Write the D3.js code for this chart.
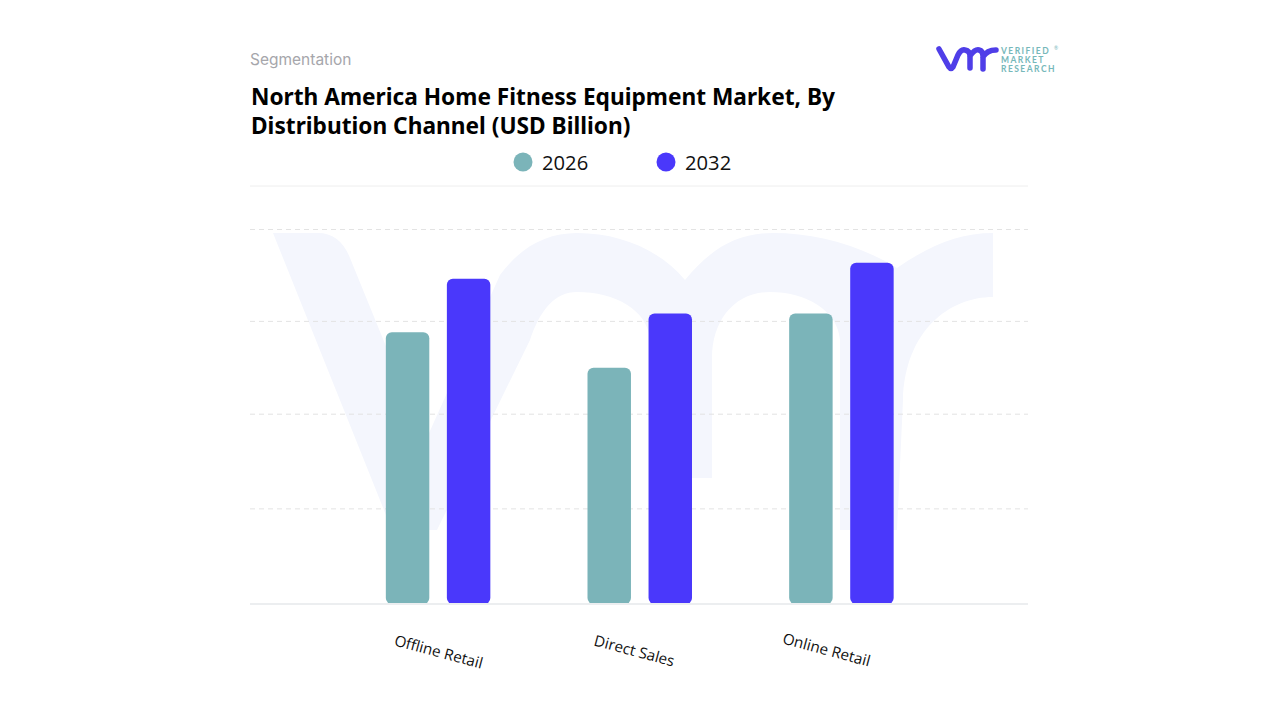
<!DOCTYPE html>
<meta charset="utf-8">
<style>
  body { margin: 0; background: #fff; }
</style>

<!-- Load d3.js -->
<script src="https://d3js.org/d3.v7.js"></script>

<!-- Create a div where the graph will take place -->
<div id="my_dataviz"></div>

<script>
    // data (no axis numbers are shown, one unit = one grid step)
    const channels = ["Offline Retail", "Direct Sales", "Online Retail"];
    const years = ["2026", "2032"];
    const values2026 = [2.90, 2.52, 3.10];
    const values2032 = [3.47, 3.10, 3.64];
    const gridValues = [1.02, 2.03, 3.02, 4];
    const titleLines = ["North America Home Fitness Equipment Market, By", "Distribution Channel (USD Billion)"];
    const logoLines = ["VERIFIED", "MARKET", "RESEARCH"];

    const colors = {"2026": "#7bb4b9", "2032": "#4a38fb"};
    const series = {"2026": values2026, "2032": values2032};

    const svg = d3.select("#my_dataviz")
      .append("svg")
        .attr("width", 1280)
        .attr("height", 720)
        .style("display", "block");

    // headings
    svg.append("text")
      .attr("x", 250).attr("y", 65)
      .style("font", "15.5px Inter")
      .attr("fill", "#a6a6ab")
      .text("Segmentation");

    svg.selectAll("text.title")
      .data(titleLines)
      .join("text")
        .attr("class", "title")
        .attr("x", 251)
        .attr("y", (d, i) => 105 + i * 29)
        .style("font", "bold 22.7px 'Noto Sans'")
        .attr("fill", "#000")
        .text(d => d);

    // logo, top right
    const logo = svg.append("g");
    logo.append("path")
      .attr("d", "M939,49 L949,67 Q951,70 953,67 L958,55 Q961,49 965,50 Q970,51 970,56 L970,68 M970,56 Q975,49 979,50 Q983,51 983,56 L983,69 M983,57 Q987,50 996,50")
      .attr("fill", "none")
      .attr("stroke", "#4f3ee8")
      .attr("stroke-width", 5.5)
      .attr("stroke-linecap", "round");
    logo.selectAll("text.brand")
      .data(logoLines)
      .join("text")
        .attr("class", "brand")
        .attr("x", 1001)
        .attr("y", (d, i) => 54 + i * 9.2)
        .style("font", "bold 8.5px Lato")
        .style("letter-spacing", "1.45px")
        .attr("fill", "#76b8ba")
        .text(d => d);
    logo.append("text")
      .attr("x", 1054).attr("y", 50)
      .style("font", "5px Lato")
      .attr("fill", "#76b8ba")
      .text("®");

    // legend
    const legendX = [523, 666];
    years.forEach((yr, i) => {
      svg.append("circle")
        .attr("cx", legendX[i]).attr("cy", 162).attr("r", 9.5)
        .attr("fill", colors[yr]);
      svg.append("text")
        .attr("x", legendX[i] + 19).attr("y", 170)
        .style("font", "20.2px 'Open Sans'")
        .attr("fill", "#111")
        .text(yr);
    });

    // line under the legend
    svg.append("line")
      .attr("x1", 250).attr("x2", 1028)
      .attr("y1", 186).attr("y2", 186)
      .attr("stroke", "#eeeeee");

    // pale vmr watermark behind the bars
    svg.append("path")
      .attr("d", "M273,233 L318,233 Q340,233 350,258 L425,442 L500,275 C520,248 545,233 577,233 C620,233 660,250 685,280 C710,250 735,233 773,233 C815,233 860,245 897,268 C930,245 960,233 993,233 L993,297 C950,297 905,330 903,400 L897,530 L840,530 L840,340 C838,310 805,292 770,292 C735,292 712,320 712,358 L712,478 L650,478 L650,340 C648,310 615,292 577,292 C555,292 540,310 530,340 L437,530 L392,530 Z")
      .attr("fill", "#f4f6fd");

    // scales
    const y = d3.scaleLinear()
      .domain([0, 4])
      .range([604, 229]);

    const x = d3.scaleBand()
      .domain(channels)
      .range([337, 942]);

    const xInner = d3.scaleBand()
      .domain(years)
      .range([x.bandwidth() / 2 - 52, x.bandwidth() / 2 + 52.5])
      .paddingInner(0.288);

    // dashed grid
    svg.append("g")
      .attr("transform", "translate(250,0)")
      .call(d3.axisLeft(y).tickValues(gridValues).tickSize(-778).tickFormat(""))
      .call(g => g.select(".domain").remove())
      .selectAll("line")
        .attr("stroke", "#e3e3e3")
        .attr("stroke-dasharray", "5 4");

    // bars
    svg.selectAll("g.group")
      .data(channels)
      .join("g")
        .attr("class", "group")
        .attr("transform", d => `translate(${x(d)},0)`)
      .selectAll("rect")
      .data((d, i) => years.map(yr => ({yr: yr, value: series[yr][i]})))
      .join("rect")
        .attr("x", d => xInner(d.yr))
        .attr("y", d => y(d.value))
        .attr("width", xInner.bandwidth())
        .attr("height", d => y(0) - y(d.value))
        .attr("rx", 6)
        .attr("fill", d => colors[d.yr]);

    // baseline and slanted labels
    const labelShift = [0.5, -5.5, -15];
    const xAxis = svg.append("g")
      .attr("transform", "translate(0,604)")
      .call(d3.axisBottom(x).tickSize(0).tickSizeOuter(0));
    xAxis.select(".domain").remove();
    xAxis.append("line")
      .attr("x1", 250).attr("x2", 1028)
      .attr("stroke", "#eceef0")
      .attr("stroke-width", 2);
    xAxis.selectAll(".tick text")
      .attr("y", null)
      .attr("dy", null)
      .attr("text-anchor", "middle")
      .attr("dominant-baseline", "middle")
      .attr("transform", (d, i) => `translate(${labelShift[i]},${49 - i}) rotate(15)`)
      .style("font", "15.2px 'Open Sans'")
      .attr("fill", "#111");
</script>
